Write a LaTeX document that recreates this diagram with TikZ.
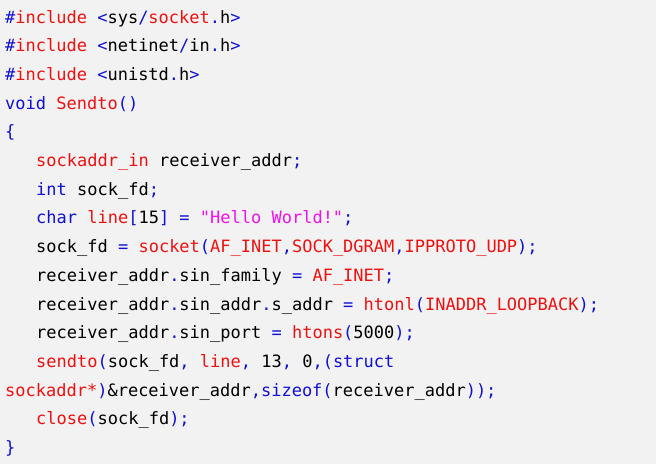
\documentclass[tikz,border=0pt]{standalone}
\usepackage{fontspec}
\newfontfamily\code{DejaVu Sans Mono}[WordSpace={1,0,0}]
\definecolor{kb}{HTML}{1010D8}
\definecolor{kr}{HTML}{F01010}
\definecolor{km}{HTML}{F010F0}
\definecolor{bg}{HTML}{F2F2F2}
\newcommand\B[1]{\textcolor{kb}{#1}}
\newcommand\R[1]{\textcolor{kr}{#1}}
\newcommand\M[1]{\textcolor{km}{#1}}
\begin{document}
\begin{tikzpicture}[x=1pt,y=-1pt,
  ln/.style={anchor=base west,inner sep=0pt,font=\code\fontsize{17}{17}\selectfont,text=black}]
\fill[bg] (0,0) rectangle (656,464);
\useasboundingbox (0,0) rectangle (656,464);
\def\ind{36}
\node[ln] (l1) at (5,23) {\B{\#}\R{include} \B{<}sys\B{/}\R{socket}\B{.}h\B{>}};
\node[ln] (l2) at (5,51.7) {\B{\#}\R{include} \B{<}netinet\B{/}in\B{.}h\B{>}};
\node[ln] (l3) at (5,80.4) {\B{\#}\R{include} \B{<}unistd\B{.}h\B{>}};
\node[ln] (l4) at (5,109.1) {\B{void} \R{Sendto}\B{()}};
\node[ln] (l5) at (5,137.8) {\B{\{}};
\node[ln] (l6) at (\ind,166.5) {\R{sockaddr\_in} receiver\_addr\B{;}};
\node[ln] (l7) at (\ind,195.2) {\B{int} sock\_fd\B{;}};
\node[ln] (l8) at (\ind,223.9) {\B{char} \R{line}\B{[}15\B{]} \B{=} \M{"Hello World!"}\B{;}};
\node[ln] (l9) at (\ind,252.6) {sock\_fd \B{=} \R{socket}\B{(}\R{AF\_INET}\B{,}\R{SOCK\_DGRAM}\B{,}\R{IPPROTO\_UDP}\B{);}};
\node[ln] (l10) at (\ind,281.3) {receiver\_addr\B{.}sin\_family \B{=} \R{AF\_INET}\B{;}};
\node[ln] (l11) at (\ind,310) {receiver\_addr\B{.}sin\_addr\B{.}s\_addr \B{=} \R{htonl}\B{(}\R{INADDR\_LOOPBACK}\B{);}};
\node[ln] (l12) at (\ind,338.7) {receiver\_addr\B{.}sin\_port \B{=} \R{htons}\B{(}5000\B{);}};
\node[ln] (l13) at (\ind,367.4) {\R{sendto}\B{(}sock\_fd\B{,} \R{line}\B{,} 13\B{,} 0\B{,(struct}};
\node[ln] (l14) at (5,396.1) {\R{sockaddr*}\B{)}\&receiver\_addr\B{,sizeof(}receiver\_addr\B{));}};
\node[ln] (l15) at (\ind,424.8) {\R{close}\B{(}sock\_fd\B{);}};
\node[ln] (l16) at (5,453.5) {\B{\}}};
\end{tikzpicture}
\end{document}
